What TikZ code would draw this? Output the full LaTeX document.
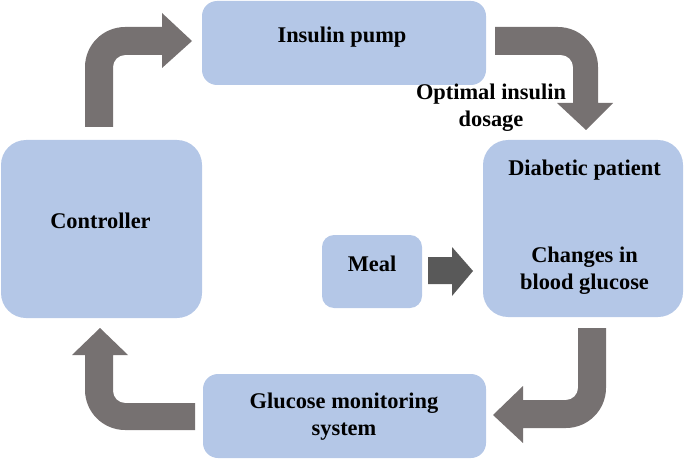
\documentclass[tikz,border=0pt]{standalone}
\usepackage{fontspec}
\setmainfont{Liberation Serif}
\definecolor{boxblue}{HTML}{B4C7E7}
\definecolor{arrowgray}{HTML}{767171}
\definecolor{mealgray}{HTML}{595959}
\begin{document}
\begin{tikzpicture}[x=0.5pt,y=-0.5pt,
  box/.style={fill=boxblue,draw=none,inner sep=0pt},
  lbl/.style={inner sep=0pt,align=center,font=\fontsize{11.2pt}{13.5pt}\selectfont\bfseries},
  blockarrow/.style={fill=arrowgray,draw=none},
  mealarrow/.style={fill=mealgray,draw=none}]
\useasboundingbox (0,0) rectangle (685,460);
% boxes
\node[box,rounded corners=12.5pt,minimum width=100.5pt,minimum height=89pt] (ctrl) at (101.5,229) {};
\node[box,rounded corners=7.5pt,minimum width=142pt,minimum height=42pt] (pump) at (344,43) {};
\node[box,rounded corners=12.5pt,minimum width=100pt,minimum height=88.5pt] (patient) at (583,228.5) {};
\node[box,rounded corners=6pt,minimum width=50pt,minimum height=36.5pt] (meal) at (372,271.5) {};
\node[box,rounded corners=7.5pt,minimum width=141.5pt,minimum height=42pt] (monitor) at (344.5,416) {};
% labels
\node[lbl,anchor=base] (tctrl) at (100.5,228) {Controller};
\node[lbl,anchor=base] (tpump) at (342,43) {Insulin pump};
\node[lbl,anchor=base] (tpatient) at (584.5,176) {Diabetic patient};
\node[lbl] (tchange) at (584.5,271) {Changes in\\blood glucose};
\node[lbl] (tmeal) at (372,264) {Meal};
\node[lbl] (tmonitor) at (344,417) {Glucose monitoring\\system};
\node[lbl] (tdose) at (491,107.5) {Optimal insulin\\dosage};
% block arrows
\fill[blockarrow] (85,127) -- (85,67) .. controls (85,45) and (103,27) .. (125,27)
  -- (162,27) -- (162,13) -- (192,41) -- (162,68) -- (162,55) -- (125,55)
  .. controls (118.4,55) and (113,60.4) .. (113,67) -- (113,127) -- cycle;
\fill[blockarrow] (495,27) -- (558,27) .. controls (580,27) and (598,45) .. (598,67)
  -- (598,103) -- (613,103) -- (586,130) -- (557,103) -- (573,103) -- (573,67)
  .. controls (573,60.4) and (567.6,55) .. (561,55) -- (495,55) -- cycle;
\fill[blockarrow] (578,328) -- (606,328) -- (606,388) .. controls (606,410) and (588,428) .. (566,428)
  -- (523,428) -- (523,443) -- (493,415) -- (523,386) -- (523,400) -- (566,400)
  .. controls (572.6,400) and (578,394.6) .. (578,388) -- cycle;
\fill[blockarrow] (195,403) -- (195,430) -- (125,430) .. controls (103,430) and (85,412) .. (85,390)
  -- (85,355) -- (72,355) -- (100,328) -- (128,355) -- (113,355) -- (113,391)
  .. controls (113,397.6) and (118.4,403) .. (125,403) -- cycle;
\fill[mealarrow] (428,257) -- (452,257) -- (452,247) -- (473,271) -- (452,296) -- (452,284) -- (428,284) -- cycle;
\end{tikzpicture}
\end{document}
